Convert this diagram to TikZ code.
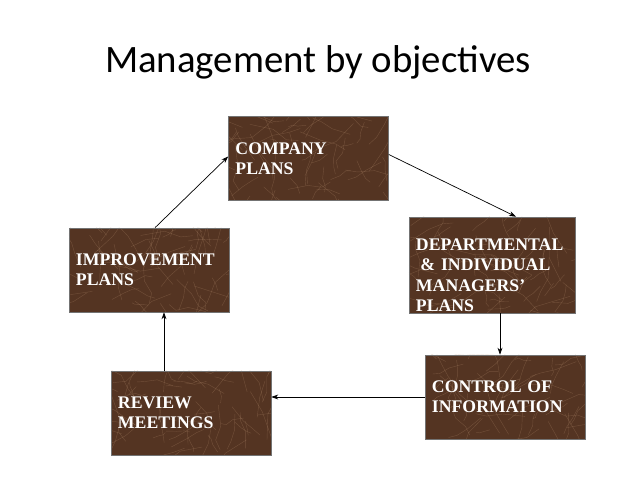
\documentclass[tikz,border=0pt]{standalone}
\usepackage{fontspec}
\setmainfont{Liberation Serif}
\newfontfamily\titlefont{Carlito}
\usetikzlibrary{calc,arrows.meta}

\definecolor{marble}{RGB}{84,52,34}
\definecolor{marblevein}{RGB}{200,160,126}

\tikzset{
  veins/.style={path picture={
    \foreach \k in {1,...,70}{
      \pgfmathsetmacro{\px}{rnd*4.3}
      \pgfmathsetmacro{\py}{rnd*2.5}
      \pgfmathsetmacro{\ang}{rnd*360}
      \pgfmathsetmacro{\len}{0.15+rnd*0.5}
      \draw[marblevein, opacity=0.25, line width=0.3pt]
        ($(path picture bounding box.south west)+(\px cm,\py cm)$)
        -- ++(\ang:\len cm) -- ++(\ang+60*rnd-30:0.7*\len cm)
        -- ++(\ang+60*rnd-30:0.5*\len cm);
    }}},
  mbobox/.style={draw=black!55, line width=0.4pt, fill=marble, veins,
    text=white, font=\bfseries\fontsize{12.6}{14.5}\selectfont,
    align=left, inner xsep=0.175cm, inner ysep=0pt,
    minimum width=4cm, minimum height=2.1cm, text width=3.65cm},
  link/.style={-{Stealth[length=5pt,width=3.5pt]}, line width=0.5pt, black}
}

\begin{document}
\pgfmathsetseed{7}
\begin{tikzpicture}[x=0.025cm, y=-0.025cm]
\useasboundingbox (0,0) rectangle (638,478);

% title
\node[font=\titlefont\fontsize{27.6}{30}\selectfont] (title) at (318,62) {Management by objectives};

% the five boxes
\node[mbobox, minimum width=3.975cm] (cp) at (308.5,158.5) {COMPANY\\PLANS};
\node[mbobox, minimum width=4.15cm, minimum height=2.4cm, text width=3.8cm] (dp) at (492,265)
  {\rule{0pt}{0.8cm}DEPARTMENTAL\\\hspace*{0.25em}\& INDIVIDUAL\\MANAGERS'\\PLANS};
\node[mbobox] (ci) at (505,397) {CONTROL OF\\INFORMATION};
\node[mbobox] (rm) at (191,413) {REVIEW\\MEETINGS};
\node[mbobox] (ip) at (149,270) {IMPROVEMENT\\PLANS};

% cycle
\draw[link] ([yshift=0.1cm]cp.east) -- ([xshift=0.6cm]dp.north);
\draw[link] ([xshift=0.2cm]dp.south) -- ([xshift=0.2cm]dp.south |- ci.north);
\draw[link] (ci.west) -- (ci.west -| rm.east);
\draw[link] ([xshift=-0.675cm]rm.north) -- ([xshift=-0.675cm]rm.north |- ip.south);
\draw[link] ([xshift=0.15cm]ip.north) -- ([yshift=0.05cm]cp.west);

\end{tikzpicture}
\end{document}
